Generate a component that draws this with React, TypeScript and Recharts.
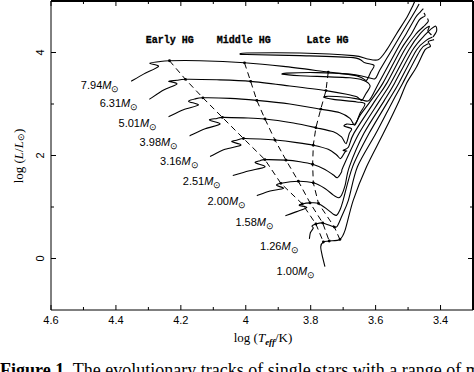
import React from 'react';
import { ComposedChart, Line, Scatter, XAxis, YAxis } from 'recharts';

// [log Teff, log L/Lsun], one array per track
const track794 = [
  [4.353, 3.44], [4.315, 3.58], [4.269, 3.73], [4.296, 3.79], [4.269, 3.82], [4.235, 3.84], [4.141, 3.84],
  [4.004, 3.8], [3.884, 3.73], [3.746, 3.62], [3.669, 3.56], [3.643, 3.51], [3.628, 3.46], [3.615, 3.62],
  [3.605, 3.75], [3.633, 3.8], [3.669, 3.9], [3.833, 3.94], [3.997, 3.96], [4.017, 3.97], [3.997, 3.99],
  [3.833, 3.99], [3.669, 3.94], [3.628, 3.88], [3.592, 3.86], [3.566, 4.05], [3.535, 4.37], [3.503, 4.69],
  [3.486, 4.9], [3.479, 5.0],
];
const track631 = [
  [4.297, 3.09], [4.253, 3.27], [4.212, 3.39], [4.238, 3.44], [4.212, 3.46], [4.186, 3.48], [4.089, 3.47],
  [3.985, 3.44], [3.864, 3.35], [3.753, 3.26], [3.689, 3.19], [3.658, 3.14], [3.643, 3.07], [3.63, 3.2],
  [3.617, 3.35], [3.638, 3.46], [3.679, 3.51], [3.833, 3.55], [3.874, 3.57], [3.889, 3.58], [3.874, 3.6],
  [3.782, 3.61], [3.679, 3.58], [3.633, 3.53], [3.602, 3.49], [3.587, 3.66], [3.55, 4.05], [3.52, 4.37],
  [3.489, 4.69], [3.474, 4.85], [3.466, 4.94],
];
const track501 = [
  [4.238, 2.75], [4.192, 2.89], [4.146, 2.98], [4.176, 3.05], [4.156, 3.1], [4.132, 3.12], [4.048, 3.11],
  [3.966, 3.07], [3.864, 3.0], [3.769, 2.9], [3.71, 2.83], [3.679, 2.72], [3.664, 2.59], [3.648, 2.82],
  [3.633, 3.0], [3.658, 3.04], [3.73, 3.09], [3.759, 3.13], [3.746, 3.15], [3.689, 3.13], [3.648, 3.09],
  [3.62, 3.07], [3.591, 3.4], [3.535, 4.05], [3.505, 4.37], [3.476, 4.69], [3.462, 4.79], [3.453, 4.85],
];
const track398 = [
  [4.173, 2.38], [4.125, 2.52], [4.079, 2.61], [4.112, 2.69], [4.089, 2.72], [4.072, 2.74], [4.007, 2.73],
  [3.941, 2.71], [3.853, 2.63], [3.784, 2.54], [3.73, 2.46], [3.705, 2.36], [3.691, 2.23], [3.681, 2.43],
  [3.674, 2.52], [3.697, 2.57], [3.689, 2.61], [3.664, 2.61], [3.648, 2.78], [3.614, 3.07], [3.578, 3.4],
  [3.523, 4.05], [3.489, 4.37], [3.466, 4.63], [3.448, 4.71], [3.451, 4.77],
];
const track316 = [
  [4.11, 1.98], [4.064, 2.12], [4.015, 2.2], [4.043, 2.27], [4.026, 2.3], [4.007, 2.33], [3.956, 2.32],
  [3.91, 2.3], [3.843, 2.25], [3.792, 2.2], [3.746, 2.12], [3.72, 2.01], [3.708, 1.94], [3.694, 2.07],
  [3.689, 2.09], [3.7, 2.1], [3.684, 2.16], [3.667, 2.43], [3.601, 3.07], [3.566, 3.4], [3.511, 4.05],
  [3.474, 4.37], [3.453, 4.5], [3.438, 4.6], [3.44, 4.66],
];
const track251 = [
  [4.04, 1.61], [3.992, 1.7], [3.941, 1.78], [3.971, 1.86], [3.956, 1.9], [3.941, 1.92], [3.876, 1.91],
  [3.833, 1.88], [3.794, 1.83], [3.756, 1.73], [3.73, 1.62], [3.718, 1.57], [3.705, 1.68], [3.7, 1.78],
  [3.651, 2.43], [3.587, 3.07], [3.554, 3.4], [3.498, 4.05], [3.462, 4.37], [3.435, 4.51], [3.439, 4.42],
  [3.428, 4.34],
];
const track200 = [
  [3.966, 1.22], [3.925, 1.31], [3.884, 1.36], [3.905, 1.42], [3.892, 1.46], [3.838, 1.5], [3.792, 1.47],
  [3.756, 1.36], [3.73, 1.23], [3.715, 1.18], [3.705, 1.23], [3.694, 1.42], [3.681, 1.78], [3.636, 2.43],
  [3.573, 3.07], [3.542, 3.4], [3.486, 4.05], [3.448, 4.34], [3.417, 4.51], [3.412, 4.42], [3.423, 4.3],
];
const track158 = [
  [3.878, 0.83], [3.843, 0.91], [3.812, 0.99], [3.835, 1.03], [3.826, 1.06], [3.802, 1.08], [3.776, 1.07],
  [3.746, 0.94], [3.73, 0.86], [3.72, 0.84], [3.71, 0.94], [3.7, 1.13], [3.671, 1.78], [3.62, 2.43],
  [3.56, 3.07], [3.529, 3.4], [3.474, 4.05], [3.443, 4.24], [3.425, 4.3],
];
const track126 = [
  [3.804, 0.38], [3.801, 0.5], [3.792, 0.59], [3.796, 0.63], [3.784, 0.67], [3.763, 0.69], [3.727, 0.61],
  [3.718, 0.63], [3.705, 0.81], [3.684, 1.13], [3.656, 1.78], [3.599, 2.43], [3.546, 3.07], [3.517, 3.4],
  [3.462, 4.05], [3.438, 4.17],
];
const track100 = [
  [3.756, -0.16], [3.765, 0.07], [3.769, 0.23], [3.761, 0.32], [3.743, 0.34], [3.71, 0.37], [3.694, 0.55],
  [3.669, 1.13], [3.628, 1.78], [3.576, 2.43], [3.527, 3.07], [3.505, 3.4], [3.474, 3.72], [3.448, 4.05],
  [3.431, 4.12], [3.438, 4.21], [3.42, 4.25],
];

// phase markers along the Hertzsprung gap (7.94 -> 1.00 Msun)
const earlyHG = [
  [4.235, 3.84], [4.186, 3.48], [4.132, 3.12], [4.072, 2.74], [4.007, 2.33],
  [3.941, 1.92], [3.892, 1.46], [3.826, 1.06], [3.784, 0.67], [3.761, 0.32],
];
const middleHG = [
  [4.004, 3.8], [3.985, 3.44], [3.966, 3.07], [3.941, 2.71], [3.91, 2.3],
  [3.876, 1.91], [3.838, 1.5], [3.802, 1.08], [3.763, 0.69], [3.743, 0.34],
];
const lateHG = [
  [3.746, 3.62], [3.753, 3.26], [3.769, 2.9], [3.784, 2.54], [3.792, 2.2],
  [3.794, 1.83], [3.792, 1.47], [3.776, 1.07], [3.727, 0.61], [3.71, 0.37],
];

const massNames = ['7.94', '6.31', '5.01', '3.98', '3.16', '2.51', '2.00', '1.58', '1.26', '1.00'];
const massLabelPos = [
  [4.508, 3.29], [4.45, 2.94], [4.392, 2.56], [4.327, 2.19], [4.264, 1.82],
  [4.194, 1.42], [4.118, 1.03], [4.032, 0.63], [3.956, 0.16], [3.905, -0.33],
];
const hgNames = ['Early HG', 'Middle HG', 'Late HG'];
const hgLabelPos = [[4.234, 4.18], [4.006, 4.18], [3.748, 4.18]];

const xTicks = [4.6, 4.5, 4.4, 4.3, 4.2, 4.1, 4.0, 3.9, 3.8, 3.7, 3.6, 3.5, 3.4];
const yTicks = [0, 1, 2, 3, 4];

const tracks = [track794, track631, track501, track398, track316, track251, track200, track158, track126, track100];

const toPts = (rows: number[][]) => rows.map(([T, L]) => ({ T, L }));

const SANS = '"Liberation Sans", Arial, Helvetica, sans-serif';
const SERIF = '"Liberation Serif", "Times New Roman", serif';

// catmull-rom style curve so the tracks bend smoothly through the read points
const smoothCurve = (context: any) => {
  let pts: number[][] = [];
  const k = 1 / 7;
  return {
    areaStart() {},
    areaEnd() {},
    lineStart() {
      pts = [];
    },
    point(x: number, y: number) {
      pts.push([+x, +y]);
    },
    lineEnd() {
      const n = pts.length;
      if (!n) return;
      context.moveTo(pts[0][0], pts[0][1]);
      for (let i = 0; i < n - 1; i++) {
        const p0 = pts[Math.max(i - 1, 0)];
        const p1 = pts[i];
        const p2 = pts[i + 1];
        const p3 = pts[Math.min(i + 2, n - 1)];
        context.bezierCurveTo(
          p1[0] + (p2[0] - p0[0]) * k,
          p1[1] + (p2[1] - p0[1]) * k,
          p2[0] - (p3[0] - p1[0]) * k,
          p2[1] - (p3[1] - p1[1]) * k,
          p2[0],
          p2[1],
        );
      }
    },
  };
};

const isMajorX = (v: number) => Math.round(v * 10) % 2 === 0;

const BottomTick = ({ x, y, payload }: any) => {
  const v = payload.value;
  const major = isMajorX(v);
  return (
    <g>
      <line x1={x} y1={y} x2={x} y2={y - (major ? 5 : 3)} stroke="#000" />
      {major && (
        <text x={x} y={y + 14} textAnchor="middle" fontSize={11} fontFamily={SANS} fill="#000">
          {String(v)}
        </text>
      )}
    </g>
  );
};

const TopTick = ({ x, y, payload }: any) => {
  const major = isMajorX(payload.value);
  return <line x1={x} y1={y} x2={x} y2={y + (major ? 5 : 3)} stroke="#000" />;
};

const LeftTick = ({ x, y, payload }: any) => {
  const v = payload.value;
  const major = v % 2 === 0;
  return (
    <g>
      <line x1={x} y1={y} x2={x + (major ? 5 : 3)} y2={y} stroke="#000" />
      {major && (
        <text
          x={x - 11}
          y={y}
          transform={`rotate(-90 ${x - 11} ${y})`}
          textAnchor="middle"
          dominantBaseline="central"
          fontSize={11}
          fontFamily={SANS}
          fill="#000"
        >
          {String(v)}
        </text>
      )}
    </g>
  );
};

const RightTick = ({ x, y, payload }: any) => {
  const major = payload.value % 2 === 0;
  return <line x1={x} y1={y} x2={x - (major ? 5 : 3)} y2={y} stroke="#000" />;
};

const MassLabel = (props: any) => {
  const { cx, cy, payload } = props;
  return (
    <text x={cx} y={cy} fontSize={11} fontFamily={SANS} fill="#000">
      {payload.name}
      <tspan fontStyle="italic">M</tspan>
      <tspan fontSize={9} dy={3}>⊙</tspan>
    </text>
  );
};

const HGLabel = (props: any) => {
  const { cx, cy, payload } = props;
  return (
    <text
      x={cx}
      y={cy}
      textAnchor="middle"
      fontSize={10}
      fontWeight="bold"
      fontFamily='"Liberation Mono", "Courier New", monospace'
      stroke="#000"
      strokeWidth={0.3}
      fill="#000"
    >
      {payload.name}
    </text>
  );
};

export default function App() {
  const massData = massNames.map((name, i) => ({ T: massLabelPos[i][0], L: massLabelPos[i][1], name }));
  const hgData = hgNames.map((name, i) => ({ T: hgLabelPos[i][0], L: hgLabelPos[i][1], name }));

  return (
    <div style={{ position: 'absolute', left: 0, top: 0, width: 474, height: 372, background: '#fff', overflow: 'hidden' }}>
      <ComposedChart width={474} height={372} margin={{ top: 0, right: 0, bottom: 32, left: 0 }}>
        <XAxis
          dataKey="T"
          type="number"
          domain={[3.3, 4.6]}
          reversed
          allowDataOverflow
          ticks={xTicks}
          interval={0}
          height={30}
          tickSize={0}
          tickMargin={0}
          tickLine={false}
          axisLine={{ stroke: '#000', strokeWidth: 1 }}
          tick={(p: any) => <BottomTick {...p} />}
        />
        <XAxis
          xAxisId="top"
          orientation="top"
          dataKey="T"
          type="number"
          domain={[3.3, 4.6]}
          reversed
          allowDataOverflow
          ticks={xTicks}
          interval={0}
          height={1}
          tickSize={0}
          tickMargin={0}
          tickLine={false}
          axisLine={{ stroke: '#000', strokeWidth: 2 }}
          tick={(p: any) => <TopTick {...p} />}
        />
        <YAxis
          dataKey="L"
          type="number"
          domain={[-1, 5]}
          allowDataOverflow
          ticks={yTicks}
          interval={0}
          width={51}
          tickSize={0}
          tickMargin={0}
          tickLine={false}
          axisLine={{ stroke: '#000', strokeWidth: 1 }}
          tick={(p: any) => <LeftTick {...p} />}
        />
        <YAxis
          yAxisId="right"
          orientation="right"
          type="number"
          domain={[-1, 5]}
          allowDataOverflow
          ticks={yTicks}
          interval={0}
          width={1}
          tickSize={0}
          tickMargin={0}
          tickLine={false}
          axisLine={{ stroke: '#000', strokeWidth: 2 }}
          tick={(p: any) => <RightTick {...p} />}
        />

        {tracks.map((t, i) => (
          <Line
            key={massNames[i]}
            data={toPts(t)}
            dataKey="L"
            type={smoothCurve as any}
            stroke="#000"
            strokeWidth={1.1}
            dot={false}
            activeDot={false}
            isAnimationActive={false}
          />
        ))}

        {[earlyHG, middleHG, lateHG].map((d, i) => (
          <Line
            key={hgNames[i]}
            data={toPts(d)}
            dataKey="L"
            type="linear"
            stroke="#000"
            strokeWidth={1}
            strokeDasharray="6 4"
            dot={{ r: 1.4, fill: '#000', stroke: '#000', strokeWidth: 0 }}
            activeDot={false}
            isAnimationActive={false}
          />
        ))}

        <Scatter data={massData} shape={(p: any) => <MassLabel {...p} />} isAnimationActive={false} />
        <Scatter data={hgData} shape={(p: any) => <HGLabel {...p} />} isAnimationActive={false} />
      </ComposedChart>

      <svg width={474} height={372} style={{ position: 'absolute', left: 0, top: 0, pointerEvents: 'none' }}>
        <text
          x={18}
          y={156}
          transform="rotate(-90 18 156)"
          textAnchor="middle"
          dominantBaseline="central"
          fontSize={13}
          fontFamily={SERIF}
          fill="#000"
        >
          log (<tspan fontStyle="italic">L</tspan>/<tspan fontStyle="italic">L</tspan>
          <tspan fontSize={9} dy={3}>⊙</tspan>
          <tspan dy={-3}>)</tspan>
        </text>
        <text x={263} y={342} textAnchor="middle" fontSize={13} fontFamily={SERIF} fill="#000">
          log (<tspan fontStyle="italic">T</tspan>
          <tspan fontSize={9} fontStyle="italic" fontWeight="bold" dy={3}>eff</tspan>
          <tspan dy={-3}>/K)</tspan>
        </text>
        <text x={0} y={376} fontSize={18} fontFamily={SERIF} fill="#000">
          <tspan fontWeight="bold">Figure 1.</tspan>
          {'  The evolutionary tracks of single stars with a range of masses'}
        </text>
      </svg>
    </div>
  );
}
